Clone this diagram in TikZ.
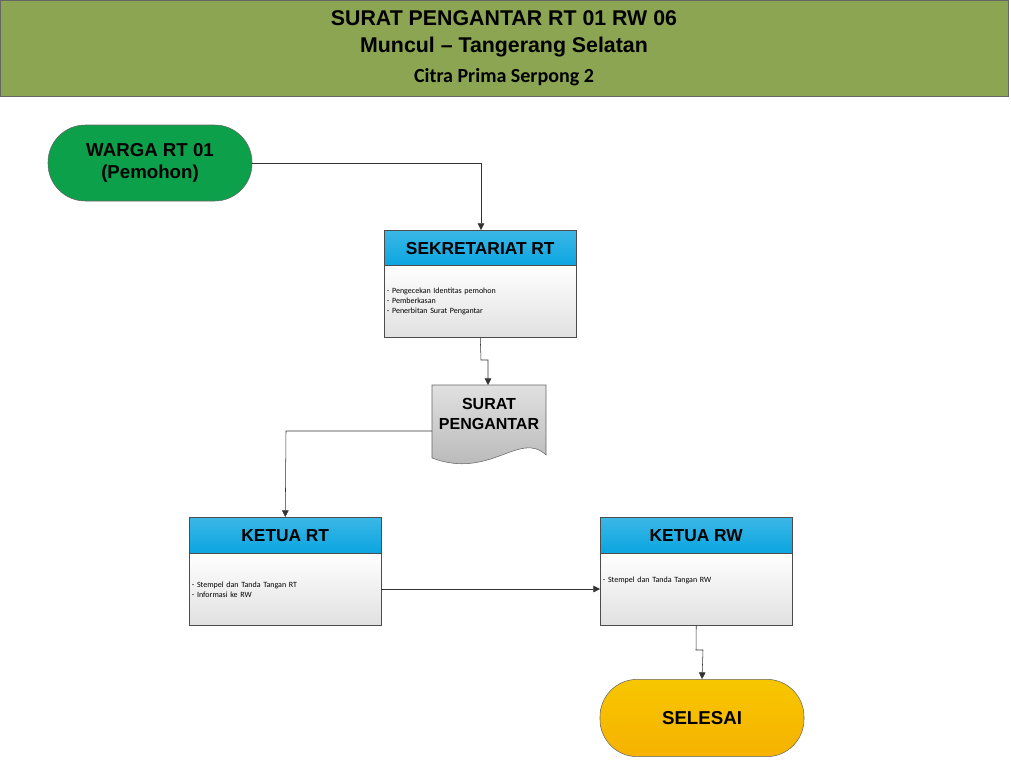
\documentclass[tikz,border=0pt]{standalone}
\usepackage{fontspec}
\setmainfont{Liberation Sans}
\newfontfamily\calfont{Carlito}
\usetikzlibrary{arrows.meta}
\definecolor{olive}{HTML}{8CA552}
\definecolor{hblue}{HTML}{0AA5E0}
\definecolor{gr}{HTML}{0DA04A}
\definecolor{yel}{HTML}{F5B800}
\tikzset{
 hdr/.style={draw=black!70,top color=hblue!80,bottom color=hblue,minimum width=144pt,minimum height=27pt,inner sep=0pt,font=\bfseries\fontsize{13}{15}\selectfont},
 bdy/.style={draw=black!70,top color=white,bottom color=black!12,minimum width=144pt,inner sep=2pt,align=left,text width=140pt,font=\calfont\fontsize{6}{7.5}\selectfont},
 pill/.style={draw=black!60,rounded corners=28pt,minimum width=153pt,minimum height=57pt,font=\bfseries\fontsize{14}{16}\selectfont,align=center},
 arr/.style={draw=black!80,-{Triangle[length=5pt,width=5pt]}}
}
\begin{document}
\begin{tikzpicture}[x=0.75pt,y=-0.75pt]
\useasboundingbox (0,0) rectangle (1011,760);
\node[draw=black!60,fill=olive,minimum width=756pt,minimum height=72pt,anchor=north west,inner sep=0pt] (title) at (0,0) {};
\node[font=\bfseries\fontsize{16}{18}\selectfont] (t1) at (504,18) {SURAT PENGANTAR RT 01 RW 06};
\node[font=\bfseries\fontsize{16}{18}\selectfont] (t2) at (504,47) {Muncul – Tangerang Selatan};
\node[font=\calfont\bfseries\fontsize{15}{17}\selectfont] (t3) at (504,77) {Citra Prima Serpong 2};

\node[pill,fill=gr] (warga) at (150,163) {WARGA RT 01\\(Pemohon)};
\node[pill,top color=yel!80!yellow,bottom color=yel!90!orange,minimum height=58pt] (sel) at (702,718) {SELESAI};

\node[hdr,anchor=north west] (sekh) at (384,230) {SEKRETARIAT RT};
\node[bdy,anchor=north west,minimum height=54pt] (sekb) at (384,265) {- Pengecekan Identitas pemohon\\- Pemberkasan\\- Penerbitan Surat Pengantar};

\node[hdr,anchor=north west] (rth) at (189,517) {KETUA RT};
\node[bdy,anchor=north west,minimum height=54pt] (rtb) at (189,553) {- Stempel dan Tanda Tangan RT\\- Informasi ke RW};
\node[hdr,anchor=north west] (rwh) at (600,517) {KETUA RW};
\node[bdy,anchor=north west,minimum height=54pt] (rwb) at (600,553) {- Stempel dan Tanda Tangan RW\\\mbox{}\\\mbox{}};

\draw[draw=black!60,top color=black!12,bottom color=black!30] (432,385) -- (546,385) -- (546,455) .. controls (520,430) and (490,480) .. (432,458) -- cycle;
\node[font=\bfseries\fontsize{12}{15}\selectfont,align=center] (surat) at (489,414) {SURAT\\PENGANTAR};
\coordinate (sl) at (432,431);
\coordinate (st) at (488,385);

\draw[arr] (warga.east) -- (481,163) -- (481,230);
\draw[arr] (sekb.south) -- (481,360) -- (488,360) -- (st);
\draw[arr] (sl) -- (286,431) -- (rth.north);
\draw[arr] (381,589) -- (600,589);
\draw[arr] (rwb.south) -- (696,650) -- (703,650) -- (sel.north);
\end{tikzpicture}
\end{document}
